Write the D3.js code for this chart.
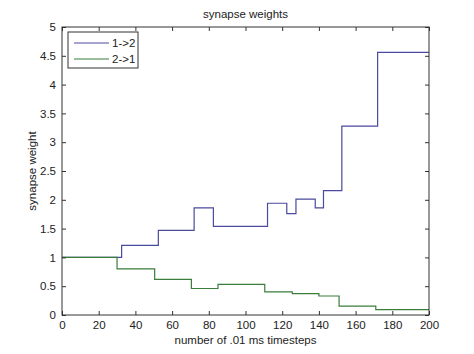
<!DOCTYPE html>
<html lang="en">
<head>
<meta charset="UTF-8">
<title>synapse weights</title>
<script src="https://d3js.org/d3.v7.min.js"></script>
<style>
  body { margin: 0; background: #fff; }
  text { font-family: Arial, "Liberation Sans", sans-serif; fill: #222; }
</style>
</head>
<body>
<script>
// step series (value holds until the next x)
const steps12X = [0, 32.5, 52.5, 72, 82.5, 112, 122.5, 127.5, 138, 142.5, 152.5, 172, 200];
const steps12Y = [1, 1.21, 1.47, 1.86, 1.54, 1.94, 1.76, 2.01, 1.86, 2.16, 3.28, 4.56, 4.56];
const steps21X = [0, 30, 50.5, 70.5, 85, 110.5, 125.5, 140, 151, 171, 200];
const steps21Y = [1, 0.8, 0.62, 0.46, 0.53, 0.4, 0.37, 0.33, 0.155, 0.095, 0.095];
const seriesNames = ["1->2", "2->1"];
const xTicks = [0, 20, 40, 60, 80, 100, 120, 140, 160, 180, 200];
const yTicks = [0, 0.5, 1, 1.5, 2, 2.5, 3, 3.5, 4, 4.5, 5];

const W = 474, H = 354;
const margin = {top: 27, right: 45, bottom: 39, left: 62};
const width = W - margin.left - margin.right,
      height = H - margin.top - margin.bottom;

const svg = d3.select("body").append("svg")
    .attr("width", W)
    .attr("height", H);

const g = svg.append("g")
    .attr("transform", `translate(${margin.left},${margin.top})`);

const x = d3.scaleLinear().domain([0, 200]).range([0, width]);
const y = d3.scaleLinear().domain([0, 5]).range([height, 0]);

const colors = ["#4a4a9e", "#3b7d3b"];

// lines (blue first, green on top)
const line = d3.line()
    .x(d => x(d[0]))
    .y(d => y(d[1]))
    .curve(d3.curveStepAfter);

const data12 = steps12X.map((v, i) => [v, steps12Y[i]]);
const data21 = steps21X.map((v, i) => [v, steps21Y[i]]);

g.append("path").datum(data12)
    .attr("fill", "none").attr("stroke", colors[0]).attr("stroke-width", 1.2)
    .attr("d", line);
g.append("path").datum(data21)
    .attr("fill", "none").attr("stroke", colors[1]).attr("stroke-width", 1.2)
    .attr("d", line);

// axes, MATLAB style: ticks inside on all four sides
function styleAxis(sel) {
    sel.select(".domain").remove();
    sel.selectAll(".tick line").attr("stroke", "#333");
    sel.selectAll("text").style("font-size", "11.5px").attr("fill", "#222");
}

g.append("g")
    .attr("transform", `translate(0,${height})`)
    .call(d3.axisBottom(x).tickValues(xTicks).tickSize(-4).tickPadding(6))
    .call(styleAxis);

g.append("g")
    .call(d3.axisTop(x).tickValues(xTicks).tickSize(-4).tickFormat(""))
    .call(styleAxis);

g.append("g")
    .call(d3.axisLeft(y).tickValues(yTicks).tickSize(-4).tickPadding(6)
        .tickFormat(d3.format("~g")))
    .call(styleAxis);

g.append("g")
    .attr("transform", `translate(${width},0)`)
    .call(d3.axisRight(y).tickValues(yTicks).tickSize(-4).tickFormat(""))
    .call(styleAxis);

g.append("rect")
    .attr("width", width).attr("height", height)
    .attr("fill", "none").attr("stroke", "#333").attr("stroke-width", 1);

// title and labels
svg.append("text")
    .attr("x", margin.left + width / 2).attr("y", 18)
    .attr("text-anchor", "middle").style("font-size", "11.5px")
    .text("synapse weights");

svg.append("text")
    .attr("x", margin.left + width / 2).attr("y", 344)
    .attr("text-anchor", "middle").style("font-size", "11.5px")
    .text("number of .01 ms timesteps");

svg.append("text")
    .attr("transform", `translate(36,${margin.top + height / 2}) rotate(-90)`)
    .attr("text-anchor", "middle").style("font-size", "11.5px")
    .text("synapse weight");

// legend
const legend = g.append("g").attr("transform", "translate(6,5)");
legend.append("rect")
    .attr("width", 70).attr("height", 36)
    .attr("fill", "#fff").attr("stroke", "#333");
seriesNames.forEach((name, i) => {
    const ly = 11 + i * 16;
    legend.append("line")
        .attr("x1", 6).attr("x2", 41).attr("y1", ly).attr("y2", ly)
        .attr("stroke", colors[i]).attr("stroke-width", 1.2);
    legend.append("text")
        .attr("x", 44).attr("y", ly + 4)
        .style("font-size", "11.5px")
        .text(name);
});
</script>
</body>
</html>
